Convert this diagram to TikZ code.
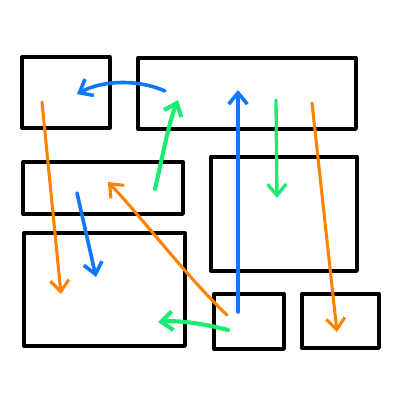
\documentclass[tikz,border=0pt]{standalone}
\usepackage{tikz}
\usepackage{xcolor}
\usetikzlibrary{arrows.meta,fit}

\definecolor{penblue}{RGB}{15,120,252}
\definecolor{pengreen}{RGB}{25,235,115}
\definecolor{penorange}{RGB}{255,130,0}

\tikzset{
  box/.style={draw, line width=2.5pt, inner sep=0pt, line join=round},
  arr/.style={line width=2.7pt, line cap=round, line join=round,
    -{Straight Barb[length=8.5pt,width=14pt]}},
}

\begin{document}
\begin{tikzpicture}[x=0.75pt,y=0.75pt,yscale=-1,xscale=1]

\useasboundingbox (0,0) rectangle (400,400);

% boxes
\node [box, fit={(22,57) (110,128)}] (topleft) {};
\node [box, fit={(138,58) (356,129)}] (topwide) {};
\node [box, fit={(23,162) (183,214)}] (midleft) {};
\node [box, fit={(211,157) (357,271)}] (midright) {};
\node [box, fit={(24,233) (185,346)}] (bigleft) {};
\node [box, fit={(214,294) (284,349)}] (smallmid) {};
\node [box, fit={(302,294) (379,348)}] (smallright) {};

% arrow ends
\coordinate (b1s) at (165,91);
\coordinate (b1e) at (77,94);
\coordinate (b2s) at (238,312);
\coordinate (b2e) at (238,90);
\coordinate (b3s) at (77,193);
\coordinate (b3e) at (96,277);
\coordinate (g1s) at (155,189);
\coordinate (g1e) at (178,100);
\coordinate (g2s) at (276,100);
\coordinate (g2e) at (277,198);
\coordinate (g3s) at (228,330);
\coordinate (g3e) at (158,322);
\coordinate (o1s) at (42,102);
\coordinate (o1e) at (61,294);
\coordinate (o2s) at (312,103);
\coordinate (o2e) at (337,332);
\coordinate (o3s) at (227,315);
\coordinate (o3e) at (108,182);

% blue
\draw [arr, penblue] (b1s) .. controls (140,80) and (105,79) .. (b1e);
\draw [arr, penblue] (b2s) -- (b2e);
\draw [arr, penblue] (b3s) -- (b3e);

% green
\draw [arr, pengreen, line width=3.1pt] (g1s) .. controls (163,155) and (168,125) .. (g1e);
\draw [arr, pengreen, line width=2.5pt] (g2s) -- (g2e);
\draw [arr, pengreen, line width=3.1pt] (g3s) .. controls (205,324) and (180,320) .. (g3e);

% orange
\draw [arr, penorange, line width=2.3pt] (o1s) -- (o1e);
\draw [arr, penorange, line width=2.3pt] (o2s) -- (o2e);
\draw [arr, penorange, line width=2.3pt] (o3s) .. controls (185,275) and (140,215) .. (o3e);

\end{tikzpicture}
\end{document}
